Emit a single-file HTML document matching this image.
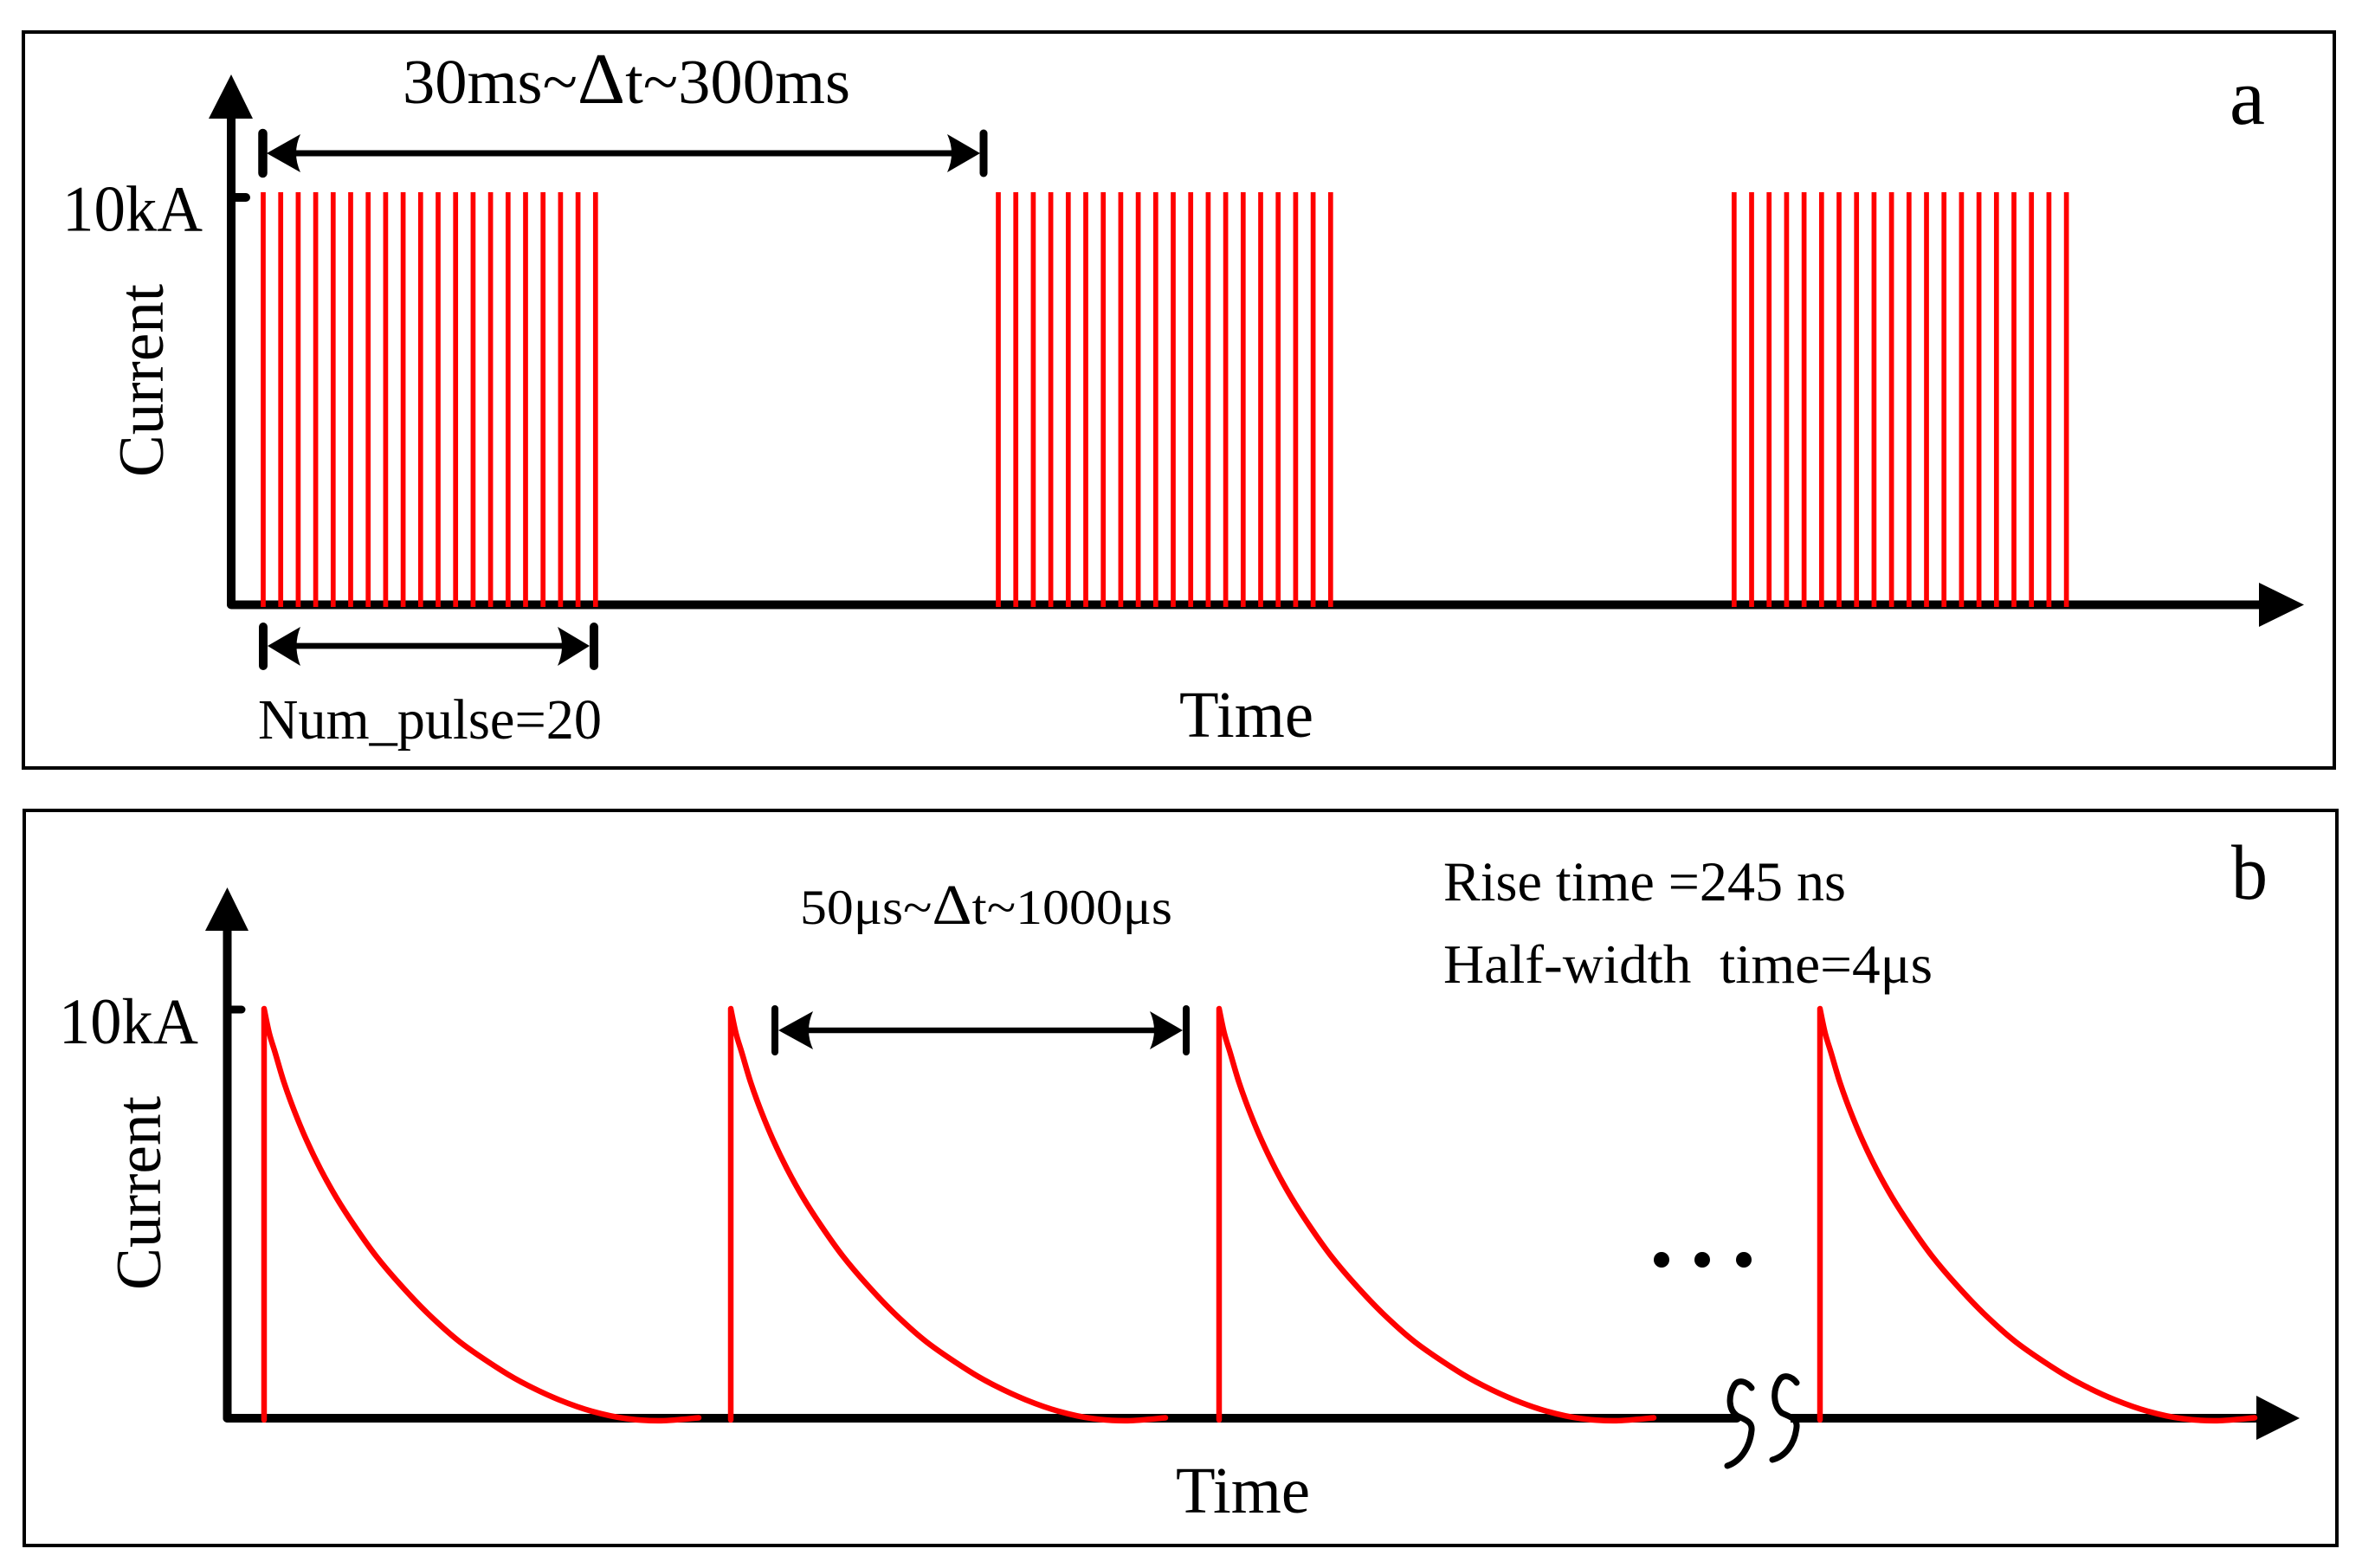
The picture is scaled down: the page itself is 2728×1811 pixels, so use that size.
<!DOCTYPE html>
<html lang="en">
<head>
<meta charset="utf-8">
<title>Pulse current waveforms</title>
<style>
html,body{margin:0;padding:0;background:#fff;}
svg{display:block;}
text{font-family:"Liberation Serif","DejaVu Serif",serif;fill:#000;}
</style>
</head>
<body>
<svg id="chart" xmlns="http://www.w3.org/2000/svg" width="2728" height="1811" viewBox="0 0 2728 1811">
  <rect x="0" y="0" width="2728" height="1811" fill="#fff"/>

  <g id="panel-a">
    <rect x="27" y="37" width="2669" height="850" fill="none" stroke="#000" stroke-width="4"/>
    <line x1="267" y1="698" x2="267" y2="130" stroke="#000" stroke-width="10" stroke-linecap="round"/>
    <line x1="267" y1="698.5" x2="2612" y2="698.5" stroke="#000" stroke-width="10" stroke-linecap="round"/>
    <polygon points="267,86 241,137 292,137" fill="#000"/>
    <polygon points="2661,698.5 2609,673 2609,724" fill="#000"/>
    <line x1="267" y1="228" x2="284" y2="228" stroke="#000" stroke-width="10" stroke-linecap="round"/>
    <g id="pulses-a"></g>
    <text x="72" y="266.5" font-size="75" textLength="162" lengthAdjust="spacingAndGlyphs">10kA</text>
    <text transform="translate(188,551) rotate(-90)" font-size="74" textLength="223" lengthAdjust="spacingAndGlyphs">Current</text>
    <text x="1362" y="851" font-size="76" textLength="155" lengthAdjust="spacingAndGlyphs">Time</text>
    <text x="2575" y="143" font-size="92" textLength="41" lengthAdjust="spacingAndGlyphs">a</text>

    <g fill="#000" stroke="#000">
      <line x1="320" y1="177" x2="1120" y2="177" stroke-width="7"/>
      <line x1="303.5" y1="154" x2="303.5" y2="200" stroke-width="10.5" stroke-linecap="round"/>
      <line x1="1136" y1="154" x2="1136" y2="200" stroke-width="9" stroke-linecap="round"/>
      <path stroke="none" d="M308 177 L347 155 Q337 177 347 199 Z"/>
      <path stroke="none" d="M1132 177 L1094 155 Q1104 177 1094 199 Z"/>
    </g>
    <text x="465" y="119" font-size="73" textLength="517" lengthAdjust="spacingAndGlyphs">30ms~<tspan font-size="84">Δ</tspan>t~300ms</text>

    <g fill="#000" stroke="#000">
      <line x1="320" y1="746" x2="670" y2="746" stroke-width="6.7"/>
      <line x1="304" y1="724" x2="304" y2="769" stroke-width="10" stroke-linecap="round"/>
      <line x1="686" y1="724" x2="686" y2="769" stroke-width="10" stroke-linecap="round"/>
      <path stroke="none" d="M309 746 L347 724 Q338 746 347 769 Z"/>
      <path stroke="none" d="M681 746 L644 724 Q654 746 644 769 Z"/>
    </g>
    <text x="298" y="853" font-size="66" textLength="397" lengthAdjust="spacingAndGlyphs">Num_pulse=20</text>
  </g>

  <g id="panel-b">
    <rect x="28" y="936" width="2671" height="849" fill="none" stroke="#000" stroke-width="4"/>
    <line x1="262.5" y1="1638" x2="262.5" y2="1068" stroke="#000" stroke-width="10" stroke-linecap="round"/>
    <line x1="262.5" y1="1638" x2="2006" y2="1638" stroke="#000" stroke-width="10" stroke-linecap="round"/>
    <line x1="2068" y1="1638" x2="2610" y2="1638" stroke="#000" stroke-width="10"/>
    <polygon points="262.5,1025 237,1075 287,1075" fill="#000"/>
    <polygon points="2656,1638 2606,1612 2606,1663" fill="#000"/>
    <line x1="262" y1="1166" x2="279" y2="1166" stroke="#000" stroke-width="9" stroke-linecap="round"/>
    <g id="pulses-b"></g>
    <text x="68" y="1205" font-size="75" textLength="161" lengthAdjust="spacingAndGlyphs">10kA</text>
    <text transform="translate(185,1490) rotate(-90)" font-size="74" textLength="224" lengthAdjust="spacingAndGlyphs">Current</text>
    <text x="1358" y="1747" font-size="76" textLength="155" lengthAdjust="spacingAndGlyphs">Time</text>
    <text x="2577" y="1038" font-size="90" textLength="42" lengthAdjust="spacingAndGlyphs">b</text>

    <g fill="#000" stroke="#000">
      <line x1="915" y1="1190" x2="1350" y2="1190" stroke-width="6.5"/>
      <line x1="895" y1="1165" x2="895" y2="1215" stroke-width="8" stroke-linecap="round"/>
      <line x1="1370" y1="1165" x2="1370" y2="1215" stroke-width="8" stroke-linecap="round"/>
      <path stroke="none" d="M899 1190 L939 1168 Q929 1190 939 1212 Z"/>
      <path stroke="none" d="M1366 1190 L1328 1168 Q1338 1190 1328 1212 Z"/>
    </g>
    <text x="924" y="1067" font-size="57" textLength="430" lengthAdjust="spacingAndGlyphs">50μs~<tspan font-size="66">Δ</tspan>t~1000μs</text>
    <text x="1667" y="1040" font-size="65" textLength="465" lengthAdjust="spacingAndGlyphs">Rise time =245 ns</text>
    <text x="1667" y="1135" font-size="64" textLength="565" lengthAdjust="spacingAndGlyphs">Half-width&#160; time=4μs</text>

    <g fill="#000">
      <circle cx="1919" cy="1455" r="9"/>
      <circle cx="1966" cy="1455" r="9"/>
      <circle cx="2014" cy="1455" r="9"/>
    </g>
    <g fill="none" stroke="#000" stroke-width="7" stroke-linecap="round">
      <path d="M2023 1603 C2018 1596 2008 1592 2003 1600 C1996 1612 1996 1628 2006 1635 C2016 1640 2024 1642 2023 1652 C2021 1672 2010 1688 1995 1693"/>
      <path d="M2075 1597 C2070 1590 2060 1586 2055 1594 C2047 1606 2048 1624 2058 1632 C2066 1636 2076 1638 2075 1648 C2073 1668 2062 1682 2047 1686"/>
    </g>
  </g>

<script>
/* Panel a: burst start times (pulse-period units), pulses per burst, pulse peak in kA */
var burstStartsA = [0, 42.03, 84.1];
var pulsesPerBurst = [20];
var pulsePeakA = [10];

/* Panel b: pulse start times (arbitrary time units) */
var pulseStartsB = [0, 53.9, 110.3, 179.7];
/* Panel b: one pulse shape: time since pulse start, current in kA */
var decayTimes = [0, 0, 0.6, 1.3, 2.3, 3.5, 4.9, 6.5, 8.37, 10.5, 12.9, 15.7, 18.9, 22.63, 27.47, 30.47, 34.07, 37.87, 41.87, 45.87, 50.2];
var decayCurrents = [-0.04, 10, 9.4, 8.91, 8.2, 7.5, 6.79, 6.09, 5.38, 4.68, 3.97, 3.27, 2.56, 1.86, 1.16, 0.8, 0.45, 0.17, -0.01, -0.06, 0.01];

var NS = 'http://www.w3.org/2000/svg';

function xA(t) { return 304 + t * 20.2; }
function yA(kA) { return 701 - kA * 47.9; }
function xB(t) { return 305 + t * 10; }
function yB(kA) { return 1638 - kA * 47.3; }

var groupA = document.getElementById('pulses-a');
burstStartsA.forEach(function (start, b) {
  for (var i = 0; i < pulsesPerBurst[0]; i++) {
    var ln = document.createElementNS(NS, 'line');
    
    
    ln.setAttribute('x1', xA(start + i));
    ln.setAttribute('x2', xA(start + i));
    ln.setAttribute('y1', yA(pulsePeakA[0]));
    ln.setAttribute('y2', yA(0));
    ln.setAttribute('stroke', '#ff0000');
    ln.setAttribute('stroke-width', '5.7');
    groupA.appendChild(ln);
  }
});

function pulsePath(start) {
  var pts = decayTimes.map(function (t, i) {
    return [xB(start + t), yB(decayCurrents[i])];
  });
  var d = 'M' + pts[0][0] + ' ' + pts[0][1] + ' L' + pts[1][0] + ' ' + pts[1][1];
  for (var i = 1; i < pts.length - 1; i++) {
    var p0 = pts[Math.max(i - 1, 1)], p1 = pts[i], p2 = pts[i + 1];
    var p3 = pts[Math.min(i + 2, pts.length - 1)];
    d += ' C' + (p1[0] + (p2[0] - p0[0]) / 6) + ' ' + (p1[1] + (p2[1] - p0[1]) / 6) +
         ' ' + (p2[0] - (p3[0] - p1[0]) / 6) + ' ' + (p2[1] - (p3[1] - p1[1]) / 6) +
         ' ' + p2[0] + ' ' + p2[1];
  }
  return d;
}

var groupB = document.getElementById('pulses-b');
pulseStartsB.forEach(function (start, k) {
  var path = document.createElementNS(NS, 'path');
  
  
  path.setAttribute('d', pulsePath(start));
  path.setAttribute('fill', 'none');
  path.setAttribute('stroke', '#ff0000');
  path.setAttribute('stroke-width', '6.5');
  path.setAttribute('stroke-linejoin', 'round');
  path.setAttribute('stroke-linecap', 'round');
  groupB.appendChild(path);
});
</script>
</svg>
</body>
</html>
